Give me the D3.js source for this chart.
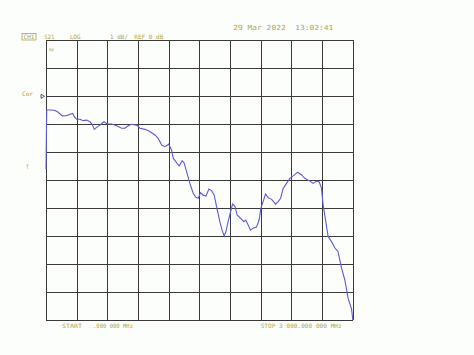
<!DOCTYPE html>
<html>
<head>
<meta charset="utf-8">
<script src="https://cdn.jsdelivr.net/npm/d3@7"></script>
<style>
html,body{margin:0;padding:0;background:#fcfefc;}
svg{display:block;}
text{font-family:"DejaVu Sans Mono",monospace;fill:#aca54f;white-space:pre;}
</style>
</head>
<body>
<svg id="c" width="474" height="355"></svg>
<script>
// Frequency (MHz) and S21 magnitude (dB)
const freqMHz = [0,7,56,88,120,159,202,235,261,276,300,332,364,398,430,452,472,495,528,567,599,642,691,740,772,804,837,886,919,967,1016,1065,1097,1131,1163,1200,1228,1244,1277,1303,1332,1349,1375,1407,1439,1466,1488,1512,1537,1564,1593,1619,1645,1668,1700,1723,1742,1759,1781,1805,1824,1847,1869,1903,1935,1954,1977,2000,2026,2059,2084,2101,2123,2147,2172,2206,2245,2270,2294,2319,2352,2384,2417,2460,2499,2531,2580,2612,2645,2671,2694,2710,2736,2759,2792,2824,2856,2890,2922,2954,2988,3000];
const s21dB = [-2.6,-0.49,-0.49,-0.51,-0.57,-0.70,-0.69,-0.64,-0.61,-0.73,-0.82,-0.82,-0.87,-0.85,-0.91,-1.00,-1.18,-1.11,-1.03,-0.91,-0.99,-0.99,-1.05,-1.14,-1.14,-1.05,-1.00,-1.03,-1.14,-1.18,-1.26,-1.38,-1.50,-1.74,-1.80,-1.71,-1.92,-2.21,-2.37,-2.49,-2.30,-2.37,-2.69,-3.11,-3.46,-3.61,-3.64,-3.44,-3.53,-3.56,-3.31,-3.37,-3.53,-3.94,-4.48,-4.80,-4.99,-4.84,-4.48,-4.12,-3.85,-3.92,-4.24,-4.36,-4.48,-4.42,-4.60,-4.78,-4.71,-4.67,-4.42,-4.00,-3.76,-3.49,-3.62,-3.68,-3.85,-3.76,-3.64,-3.29,-3.11,-2.93,-2.84,-2.71,-2.81,-2.93,-3.03,-3.11,-3.03,-3.05,-3.29,-3.88,-4.48,-5.01,-5.19,-5.41,-5.55,-6.14,-6.56,-7.21,-7.60,-7.99];
const xGridMHz = [0,300,600,900,1200,1500,1800,2100,2400,2700,3000];
const yGridDB = [2,1,0,-1,-2,-3,-4,-5,-6,-7,-8];
const headerLabels = ["S21","LOG","1 dB/","REF 0 dB"];
const dateLabel = "29 Mar 2022  13:02:41";
const startLabels = ["START", ".000 000 MHz"];
const stopLabel = "STOP 3 000.000 000 MHz";

const svg = d3.select("#c");
const x = d3.scaleLinear().domain([0,3000]).range([46,352.8]);
const y = d3.scaleLinear().domain([-8,2]).range([320.3,40.3]);

// grid via axes
svg.append("g").attr("transform",`translate(0,${y(-8)})`)
  .call(d3.axisBottom(x).tickValues(xGridMHz).tickSize(-(y(-8)-y(2))).tickFormat(""));
svg.append("g").attr("transform",`translate(${x(0)},0)`)
  .call(d3.axisLeft(y).tickValues(yGridDB).tickSize(-(x(3000)-x(0))).tickFormat(""));
svg.selectAll(".domain").remove();
svg.selectAll(".tick line").attr("stroke","#3a3a3a").attr("stroke-width",1.1).attr("shape-rendering","crispEdges");

// trace
const line = d3.line().x((d,i)=>x(freqMHz[i])).y(d=>y(d));
svg.append("path").datum(s21dB).attr("d",line)
  .attr("fill","none").attr("stroke","#5b5bd6").attr("stroke-width",1.1);

// reference marker
const ry = y(0);
svg.append("path").attr("d",`M${x(0)-5},${ry-2}L${x(0)-1.5},${ry}L${x(0)-5},${ry+2}Z`)
  .attr("fill","none").attr("stroke","#333").attr("stroke-width",0.8);

// texts
function t(str,xx,yy,len,size){
  const e = svg.append("text").attr("x",xx).attr("y",yy).attr("font-size",size||6)
    .attr("xml:space","preserve").text(str);
  if(len) e.attr("textLength",len).attr("lengthAdjust","spacingAndGlyphs");
  return e;
}
svg.append("rect").attr("x",22).attr("y",33.5).attr("width",14).attr("height",6.5)
  .attr("fill","none").attr("stroke","#aca54f").attr("stroke-width",0.8);
t("CH1",23.5,39,11);
t(headerLabels[0],44.3,39,10);
t(headerLabels[1],70,39,10.5);
t(headerLabels[2],110,39,18);
t(headerLabels[3],134.3,39,29);
t(dateLabel,233.3,30,100,7);
t("Cor",22,96,11);
t("T",26,169,3);
t("Ap",49,51,5,4.5);
t(startLabels[0],62,328,20);
t(startLabels[1],93,328,40);
t(stopLabel,260.7,328,81);
</script>
</body>
</html>
